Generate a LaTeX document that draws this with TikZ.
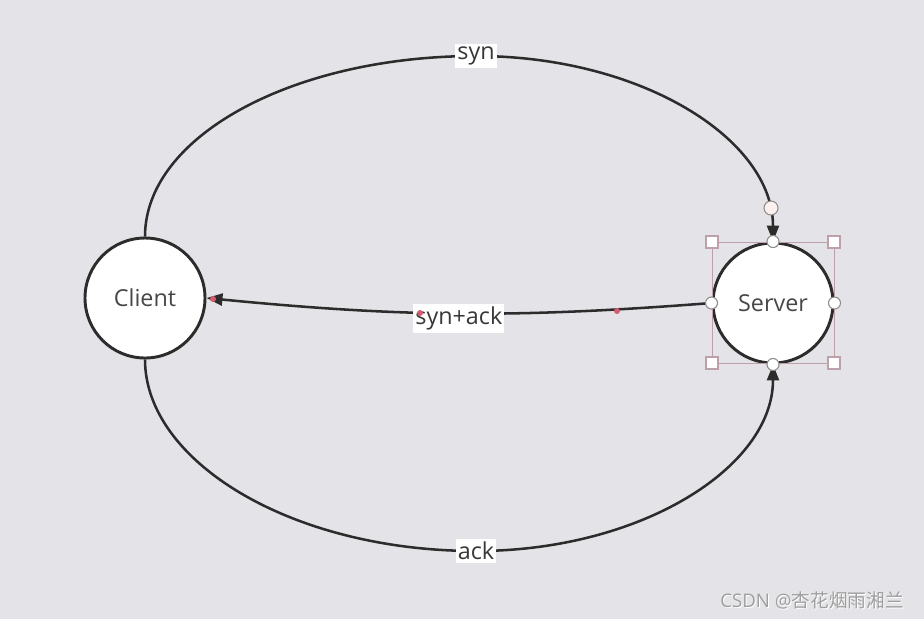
\documentclass[tikz,border=0pt]{standalone}
\usepackage{fontspec}
\setmainfont{Open Sans}
\newfontfamily\cjkfont{Noto Sans CJK SC}
\usetikzlibrary{arrows.meta}
\definecolor{bgcol}{RGB}{228,228,232}
\definecolor{inkcol}{RGB}{44,44,44}
\definecolor{selcol}{RGB}{190,160,170}
\definecolor{dotcol}{RGB}{214,92,112}

\begin{document}
\begin{tikzpicture}
	[%
	x=0.75pt, y=-0.75pt,%
	host/.style  ={circle,		draw=inkcol,	fill=white,	line width=2.2pt,	inner sep=0pt,	minimum size=90pt,	text=black!72,	font=\fontsize{17.5}{20}\selectfont},%
	link/.style  ={draw=inkcol,	line width=1.9pt,	-{Triangle[length=12pt,width=9pt]}},%
	tag/.style   ={rectangle,	fill=white,	inner xsep=1.5pt,	inner ysep=2pt,	text=black!78,	font=\fontsize{17.5}{20}\selectfont},%
	grip/.style  ={circle,		draw=black!45,	fill=white,	line width=0.8pt,	inner sep=0pt,	minimum size=9pt},%
	corner/.style={rectangle,	draw=selcol,	fill=white,	line width=0.8pt,	inner sep=0pt,	minimum size=9pt},%
	reddot/.style={circle,		fill=dotcol,	inner sep=0pt,	minimum size=4.5pt},%
	]

	% background
	\fill [bgcol] (0,0) rectangle (924,619);

	% nodes
	\node (client) at (145,298) [host] {Client};
	\node (server) at (773,303) [host] {Server};

	\coordinate (syntop) at (476,56);
	\coordinate (ackbot) at (476,551);

	% connections
	\draw [link] (client.north) to [out=90,in=180,out looseness=0.68,in looseness=1.24] (syntop)
		to [out=0,in=90,out looseness=1.2,in looseness=0.75] (server.north);
	\draw [link] (client.south) to [out=-90,in=180,out looseness=0.68,in looseness=1.24] (ackbot)
		to [out=0,in=-90,out looseness=1.2,in looseness=0.75] (server.south);
	\draw [link] (server.west) to [bend left=5] node (synacklbl) [tag, yshift=-4pt] {syn+ack} (client.east);

	\node (synlbl) at (syntop) [tag] {syn};
	\node (acklbl) at (ackbot) [tag] {ack};

	% selection of the server
	\draw [selcol, line width=0.6pt] (712,242) rectangle (834,363);
	\foreach \x/\y [count=\i] in {712/242, 834/242, 712/363, 834/363}
		\node (corner\i) at (\x,\y) [corner] {};
	\foreach \a [count=\i] in {north, west, east, south}
		\node (grip\i) at (server.\a) [grip] {};
	\node (gripline) at (771,208) [grip, fill=red!6, minimum size=10.5pt] {};

	% red dots
	\node (dot0) at (213,299) [reddot] {};
	\node (dot1) at (420,313) [reddot] {};
	\node (dot2) at (617,311) [reddot] {};

	% watermark
	\node (wmshadow) at (813,601) [text=white, font=\fontsize{14}{16}\selectfont] {CSDN @{\cjkfont 杏花烟雨湘兰}};
	\node (wm) at (812,600) [text=black!38, font=\fontsize{14}{16}\selectfont] {CSDN @{\cjkfont 杏花烟雨湘兰}};

\end{tikzpicture}
\end{document}
